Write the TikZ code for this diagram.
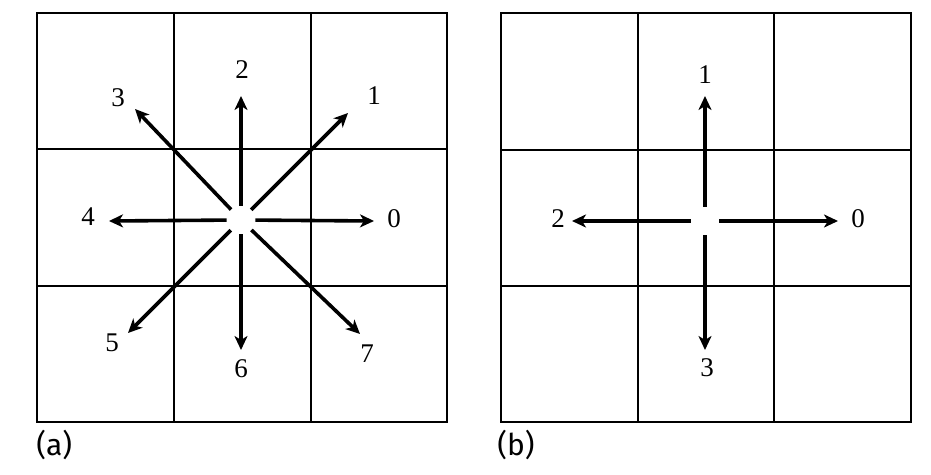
\documentclass[tikz,border=0pt]{standalone}
\usepackage{fontspec}
\setmainfont{Liberation Serif}
\newfontfamily\capfont{Fira Sans}
\usetikzlibrary{arrows.meta}
\def\leftbox{(37,13) rectangle (447,422)}
\def\rightbox{(501,13) rectangle (911,422)}
\tikzset{
  cellline/.style={line width=1pt},
  boxline/.style={line width=1.3pt},
  dir/.style={-{Stealth[length=7pt,width=6.5pt,inset=2pt]},line width=1.8pt},
  hub/.style={circle,minimum size=14pt,inner sep=0pt},
  lbl/.style={font=\fontsize{13.5}{15}\selectfont,inner sep=0pt},
  sublabel/.style={font=\capfont\fontsize{15}{17}\selectfont,anchor=west,inner sep=0pt}
}
\begin{document}
\begin{tikzpicture}[x=0.5pt,y=-0.5pt]
      \useasboundingbox (0,0) rectangle (931,475);
      % grid (a)
      \draw[boxline] \leftbox;
      \foreach \x in {174,311} \draw[cellline] (\x,13) -- (\x,422);
      \foreach \y in {149,286} \draw[cellline] (37,\y) -- (447,\y);
      % grid (b)
      \draw[boxline] \rightbox;
      \foreach \x in {638,774} \draw[cellline] (\x,13) -- (\x,422);
      \foreach \y in {150,286} \draw[cellline] (501,\y) -- (911,\y);
      % eight directions
      \node[hub] (ca) at (241,220) {};
      \coordinate (a0) at (374,221);
      \coordinate (a1) at (348,113);
      \coordinate (a2) at (241,96);
      \coordinate (a3) at (135,109);
      \coordinate (a4) at (109,221);
      \coordinate (a5) at (128,333);
      \coordinate (a6) at (241,350);
      \coordinate (a7) at (360,334);
      \foreach \i in {0,...,7} \draw[dir] (ca) -- (a\i);
      \node[lbl] (la0) at (394,219) {0};
      \node[lbl] (la1) at (374,96) {1};
      \node[lbl] (la2) at (242,70) {2};
      \node[lbl] (la3) at (118,98) {3};
      \node[lbl] (la4) at (88,217) {4};
      \node[lbl] (la5) at (112,343) {5};
      \node[lbl] (la6) at (241,369) {6};
      \node[lbl] (la7) at (367,354) {7};
      % four directions
      \node[hub] (cb) at (705,221) {};
      \coordinate (b0) at (838,221);
      \coordinate (b1) at (705,96);
      \coordinate (b2) at (572,221);
      \coordinate (b3) at (705,350);
      \foreach \i in {0,...,3} \draw[dir] (cb) -- (b\i);
      \node[lbl] (lb0) at (858,219) {0};
      \node[lbl] (lb1) at (705,75) {1};
      \node[lbl] (lb2) at (558,219) {2};
      \node[lbl] (lb3) at (707,368) {3};
      % captions
      \node[sublabel] (capa) at (36,445) {(a)};
      \node[sublabel] (capb) at (497,445) {(b)};
\end{tikzpicture}
\end{document}
